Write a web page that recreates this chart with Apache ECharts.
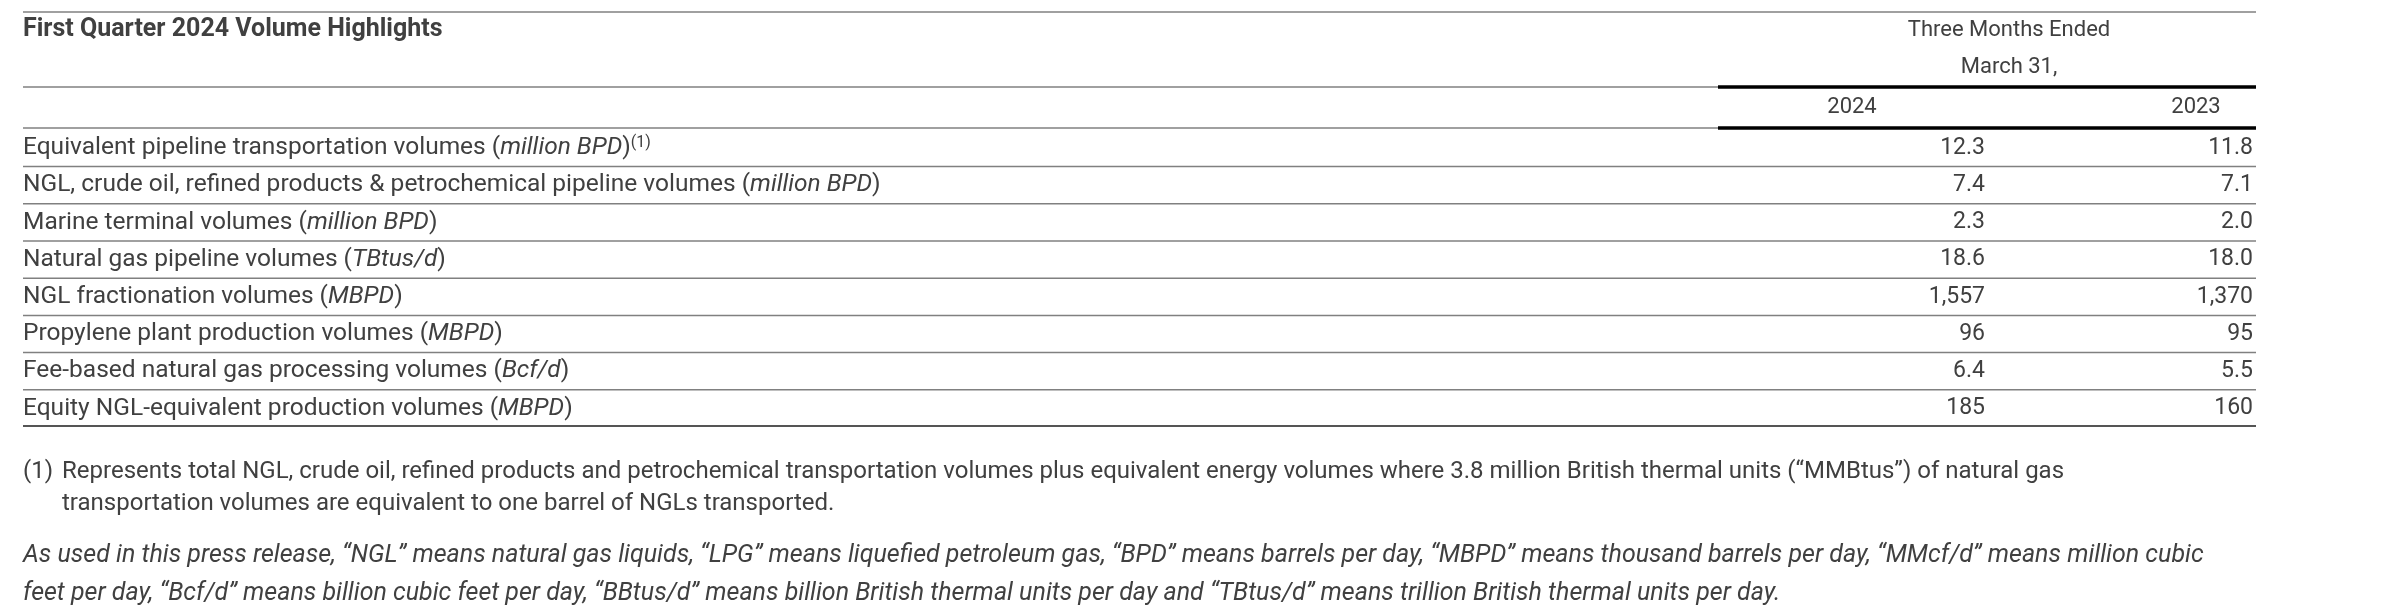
<!DOCTYPE html>
<html><head><meta charset="utf-8">
<script src="https://cdn.jsdelivr.net/npm/echarts@6/dist/echarts.min.js"></script>
<style>html,body{margin:0;background:#fff}#c{width:2386px;height:616px}</style>
</head><body><div id="c"></div>
<script>
var title = 'First Quarter 2024 Volume Highlights'
var header = ['Three Months Ended', 'March 31,']
var years = ['2024', '2023']
var labels = ['Equivalent pipeline transportation volumes', 'NGL, crude oil, refined products & petrochemical pipeline volumes',
  'Marine terminal volumes', 'Natural gas pipeline volumes', 'NGL fractionation volumes',
  'Propylene plant production volumes', 'Fee-based natural gas processing volumes', 'Equity NGL-equivalent production volumes']
var units = ['million BPD', 'million BPD', 'million BPD', 'TBtus/d', 'MBPD', 'MBPD', 'Bcf/d', 'MBPD']
var notes = ['(1)', '', '', '', '', '', '', '']
var v2024 = ['12.3', '7.4', '2.3', '18.6', '1,557', '96', '6.4', '185']
var v2023 = ['11.8', '7.1', '2.0', '18.0', '1,370', '95', '5.5', '160']
var footnote = ['Represents total NGL, crude oil, refined products and petrochemical transportation volumes plus equivalent energy volumes where 3.8 million British thermal units (\u201cMMBtus\u201d) of natural gas',
  'transportation volumes are equivalent to one barrel of NGLs transported.']
var glossary = ['As used in this press release, \u201cNGL\u201d means natural gas liquids, \u201cLPG\u201d means liquefied petroleum gas, \u201cBPD\u201d means barrels per day, \u201cMBPD\u201d means thousand barrels per day, \u201cMMcf/d\u201d means million cubic',
  'feet per day, \u201cBcf/d\u201d means billion cubic feet per day, \u201cBBtus/d\u201d means billion British thermal units per day and \u201cTBtus/d\u201d means trillion British thermal units per day.']

var FONT = '"Liberation Sans Narrow", Roboto, sans-serif'
var COL = '#404040'
var L = 23, R = 2256, C1 = 1985, C2 = 2253
var g = []
function line(x1, y, x2, w, c) {
  g.push({type: 'line', shape: {x1: x1, y1: y, x2: x2, y2: y}, style: {stroke: c || '#808080', lineWidth: w || 1.5}})
}
function txt(x, y, s, o) {
  o = o || {}
  g.push({type: 'text', x: x, y: y, style: Object.assign({text: s, font: (o.fw || 'normal') + ' ' + (o.fs || 22) + 'px ' + FONT,
    fill: COL, textAlign: o.align || 'left', textVerticalAlign: 'middle'}, o.style || {})})
}
line(L, 12, R)
txt(L, 30, title, {fw: 'bold', fs: 25})
txt(2009, 30, header[0], {align: 'center'})
txt(2009, 67, header[1], {align: 'center'})
line(L, 87, 1718)
line(1718, 87, R, 3.5, '#000')
txt(1852, 107, years[0], {align: 'center'})
txt(2196, 107, years[1], {align: 'center'})
line(L, 128, 1718)
line(1718, 128, R, 3.5, '#000')
var y0 = 148, dy = 37.2
labels.forEach(function (lab, i) {
  var y = y0 + i * dy
  g.push({type: 'text', x: L, y: y, style: {
    text: '{a|' + lab + ' (}{i|' + units[i] + '}{a|)}' + (notes[i] ? '{s|' + notes[i] + '}' : ''),
    textVerticalAlign: 'middle',
    rich: {a: {font: '24.5px ' + FONT, fill: COL}, i: {font: 'italic 24.5px ' + FONT, fill: COL},
      s: {font: '16px ' + FONT, fill: COL, verticalAlign: 'top', padding: [0, 0, 10, 0]}}}})
  txt(C1, y, v2024[i], {align: 'right', fs: 23})
  txt(C2, y, v2023[i], {align: 'right', fs: 23})
  if (i < labels.length - 1) line(L, y + dy / 2, R)
})
line(L, 426, R, 2, '#555')
txt(L, 472, '(1)', {fs: 24})
txt(62, 472, footnote[0], {fs: 24})
txt(62, 504, footnote[1], {fs: 24})
txt(L, 556, glossary[0], {style: {font: 'italic 25px ' + FONT}})
txt(L, 594, glossary[1], {style: {font: 'italic 25px ' + FONT}})

var chart = echarts.init(document.getElementById('c'))
chart.setOption({animation: false, graphic: g})
</script></body></html>
